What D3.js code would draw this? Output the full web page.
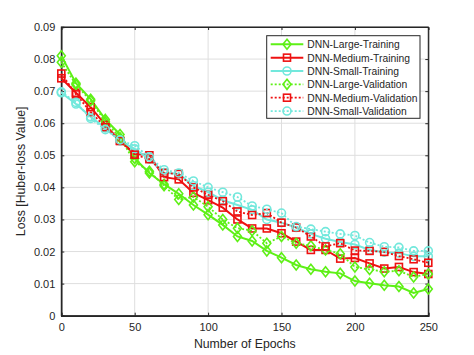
<!DOCTYPE html>
<html><head><meta charset="utf-8">
<script src="https://cdn.jsdelivr.net/npm/d3@7"></script>
<style>body{margin:0;background:#fff;}svg{display:block;font-family:"Liberation Sans",Arial,sans-serif;}</style>
</head><body>
<svg id="c" width="474" height="355"></svg>
<script>
const epochs = d3.range(0, 251, 10);
const largeTraining = [0.081,0.0725,0.0675,0.0612,0.0565,0.049,0.0445,0.041,0.038,0.0345,0.0315,0.0283,0.0247,0.0233,0.0202,0.0181,0.0158,0.0145,0.0137,0.0132,0.0108,0.0101,0.0095,0.0091,0.0071,0.0083];
const mediumTraining = [0.074,0.0695,0.065,0.0595,0.0545,0.0505,0.050,0.0432,0.0425,0.0383,0.036,0.0337,0.030,0.0272,0.0272,0.0257,0.0231,0.0205,0.0205,0.0178,0.018,0.0163,0.0147,0.0152,0.0136,0.013];
const smallTraining = [0.0695,0.066,0.062,0.0585,0.0545,0.052,0.0488,0.0446,0.0442,0.0405,0.0385,0.036,0.0345,0.033,0.030,0.029,0.0275,0.0255,0.024,0.023,0.0222,0.0205,0.0198,0.0195,0.0185,0.0185];
const largeValidation = [0.079,0.072,0.067,0.0605,0.0555,0.048,0.045,0.0405,0.0362,0.037,0.034,0.030,0.0273,0.0265,0.0226,0.0247,0.0226,0.0218,0.0205,0.0193,0.0152,0.0144,0.0137,0.014,0.0121,0.013];
const mediumValidation = [0.0755,0.069,0.0635,0.0588,0.0545,0.0502,0.0488,0.0445,0.0442,0.040,0.0377,0.0357,0.0325,0.0314,0.032,0.029,0.0275,0.0247,0.0216,0.0226,0.0203,0.0202,0.0199,0.0186,0.0176,0.0165];
const smallValidation = [0.0698,0.0665,0.0615,0.058,0.0548,0.053,0.0495,0.0455,0.0445,0.042,0.040,0.0385,0.037,0.0342,0.0332,0.032,0.0278,0.027,0.0262,0.0255,0.025,0.0228,0.0215,0.0213,0.0202,0.0202];
const seriesNames = ["DNN-Large-Training","DNN-Medium-Training","DNN-Small-Training","DNN-Large-Validation","DNN-Medium-Validation","DNN-Small-Validation"];
const xTicks = [0,50,100,150,200,250];
const yTicks = [0,0.01,0.02,0.03,0.04,0.05,0.06,0.07,0.08,0.09];

const GREEN="#5ef016", RED="#ee1111", CYAN="#72e8dc";
const series = [
  {name:seriesNames[0], v:largeTraining, c:GREEN, m:"diamond", dash:null},
  {name:seriesNames[1], v:mediumTraining, c:RED, m:"square", dash:null},
  {name:seriesNames[2], v:smallTraining, c:CYAN, m:"circle", dash:null},
  {name:seriesNames[3], v:largeValidation, c:GREEN, m:"diamond", dash:"2,2"},
  {name:seriesNames[4], v:mediumValidation, c:RED, m:"square", dash:"2,2"},
  {name:seriesNames[5], v:smallValidation, c:CYAN, m:"circle", dash:"2,2"}
];

const L=61.3, R=428.3, T=27, B=315.7;
const svg = d3.select("#c");
const x = d3.scaleLinear().domain([0,250]).range([L,R]);
const y = d3.scaleLinear().domain([0,0.09]).range([B,T]);

// grid
const g = svg.append("g");
g.selectAll(".gx").data(xTicks).join("line").attr("x1",d=>x(d)).attr("x2",d=>x(d)).attr("y1",T).attr("y2",B).attr("stroke","#dedede").attr("stroke-width",1);
g.selectAll(".gy").data(yTicks).join("line").attr("y1",d=>y(d)).attr("y2",d=>y(d)).attr("x1",L).attr("x2",R).attr("stroke","#dedede").attr("stroke-width",1);

// box
svg.append("rect").attr("x",L).attr("y",T).attr("width",R-L).attr("height",B-T).attr("fill","none").attr("stroke","#262626").attr("stroke-width",1);

// axes
const xa = svg.append("g").attr("transform",`translate(0,${B})`).call(d3.axisBottom(x).tickValues(xTicks).tickSize(-3).tickPadding(8).tickFormat(d3.format("d")));
const ya = svg.append("g").attr("transform",`translate(${L},0)`).call(d3.axisLeft(y).tickValues(yTicks).tickSize(-3).tickPadding(6).tickFormat(d=>d===0?"0":d3.format(".2f")(d)));
const xt = svg.append("g").attr("transform",`translate(0,${T})`).call(d3.axisTop(x).tickValues(xTicks).tickSize(-3).tickFormat(""));
const yr = svg.append("g").attr("transform",`translate(${R},0)`).call(d3.axisRight(y).tickValues(yTicks).tickSize(-3).tickFormat(""));
[xa,ya,xt,yr].forEach(a=>{a.select(".domain").attr("stroke","#262626");a.selectAll(".tick line").attr("stroke","#262626");a.selectAll("text").attr("fill","#262626").style("font-size","11px").style("font-family","'Liberation Sans',Arial,sans-serif");});
ya.select(".domain").attr("stroke-width",1.5); xa.select(".domain").attr("stroke-width",1.5);

svg.append("text").attr("x",(L+R)/2).attr("y",348).attr("text-anchor","middle").attr("fill","#262626").style("font-size","12.3px").text("Number of Epochs");
svg.append("text").attr("transform",`translate(25,${(T+B)/2}) rotate(-90)`).attr("text-anchor","middle").attr("fill","#262626").style("font-size","12.3px").text("Loss [Huber-loss Value]");

function marker(sel, m, c){
  if(m==="diamond") sel.append("path").attr("d","M0,-5L4,0L0,5L-4,0Z");
  else if(m==="square") sel.append("rect").attr("x",-3.5).attr("y",-3.5).attr("width",7).attr("height",7);
  else sel.append("circle").attr("r",4);
  sel.selectAll("path,rect,circle").attr("fill","none").attr("stroke",c).attr("stroke-width",1.6);
}

const line = d3.line().x((d,i)=>x(epochs[i])).y(d=>y(d));
const plot = svg.append("g");
series.forEach(s=>{
  plot.append("path").datum(s.v).attr("d",line).attr("fill","none").attr("stroke",s.c).attr("stroke-width",s.dash?1.8:2).attr("stroke-dasharray",s.dash);
  plot.selectAll(null).data(s.v).join("g").attr("transform",(d,i)=>`translate(${x(epochs[i])},${y(d)})`).each(function(){marker(d3.select(this), s.m, s.c);});
});

// legend
const lg = svg.append("g");
lg.append("rect").attr("x",266.7).attr("y",35.7).attr("width",153.3).attr("height",82.6).attr("fill","#fff").attr("stroke","#262626").attr("stroke-width",1);
series.forEach((s,i)=>{
  const yy = 44.3 + i*13.35;
  lg.append("line").attr("x1",270.7).attr("x2",303.3).attr("y1",yy).attr("y2",yy).attr("stroke",s.c).attr("stroke-width",s.dash?1.8:2).attr("stroke-dasharray",s.dash);
  const mg = lg.append("g").attr("transform",`translate(287,${yy})`);
  marker(mg, s.m, s.c);
  lg.append("text").attr("x",307.3).attr("y",yy+4).attr("fill","#262626").style("font-size","10.3px").text(s.name);
});
</script>
</body></html>
